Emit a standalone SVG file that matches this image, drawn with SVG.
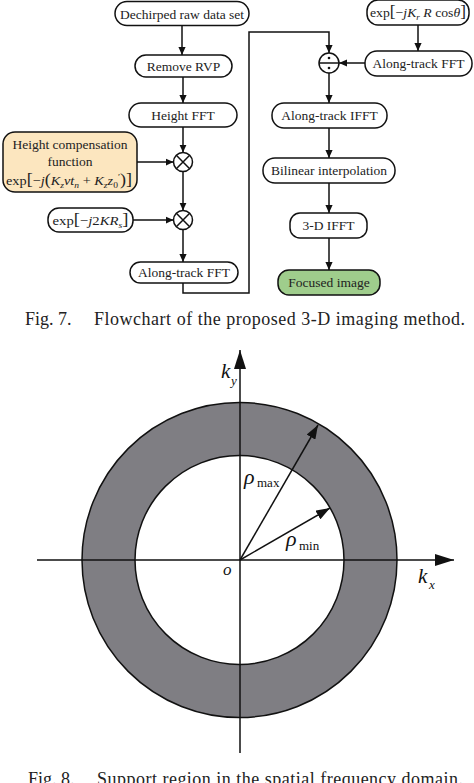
<svg xmlns="http://www.w3.org/2000/svg" width="474" height="783" viewBox="0 0 474 783">
<style>
.box{fill:#fff;stroke:#111;stroke-width:1.5}
.lbl{font-family:"Liberation Serif","Times New Roman",serif;font-size:13.5px;fill:#222;text-anchor:middle}
.it{font-style:italic}
.con{fill:none;stroke:#111;stroke-width:1.5}
.cap{font-family:"Liberation Serif","Times New Roman",serif;font-size:18px;fill:#222}
.ax{font-family:"Liberation Serif","Times New Roman",serif;fill:#111}
</style>
<defs>
<marker id="ah" viewBox="0 0 10 10" refX="10" refY="5" markerWidth="8" markerHeight="8" markerUnits="userSpaceOnUse" orient="auto"><path d="M0,0.5 L10,5 L0,9.5 Z" fill="#111"/></marker>
<marker id="big" viewBox="0 0 10 10" refX="10" refY="5" markerWidth="19" markerHeight="12" markerUnits="userSpaceOnUse" orient="auto" preserveAspectRatio="none"><path d="M0,0 L10,5 L0,10 Z" fill="#111"/></marker>
<marker id="mid" viewBox="0 0 10 10" refX="10" refY="5" markerWidth="14" markerHeight="10" markerUnits="userSpaceOnUse" orient="auto" preserveAspectRatio="none"><path d="M0,0 L10,5 L0,10 Z" fill="#111"/></marker>
</defs>

<g id="connectors">
<line class="con" x1="182" y1="25.5" x2="182" y2="55" marker-end="url(#ah)"/>
<line class="con" x1="183" y1="77" x2="183" y2="103" marker-end="url(#ah)"/>
<line class="con" x1="183" y1="127" x2="183" y2="152.5" marker-end="url(#ah)"/>
<line class="con" x1="137" y1="162" x2="173.5" y2="162" marker-end="url(#ah)"/>
<line class="con" x1="183" y1="171.5" x2="183" y2="210.5" marker-end="url(#ah)"/>
<line class="con" x1="133" y1="220" x2="173.5" y2="220" marker-end="url(#ah)"/>
<line class="con" x1="183" y1="229.5" x2="183" y2="262" marker-end="url(#ah)"/>
<polyline class="con" points="183,283 183,293 249,293 249,32 329,32 329,53" marker-end="url(#ah)"/>
<line class="con" x1="418" y1="25" x2="418" y2="51" marker-end="url(#ah)"/>
<line class="con" x1="365" y1="63" x2="339" y2="63" marker-end="url(#ah)"/>
<line class="con" x1="329" y1="73" x2="329" y2="103" marker-end="url(#ah)"/>
<line class="con" x1="329" y1="128" x2="329" y2="158" marker-end="url(#ah)"/>
<line class="con" x1="329" y1="183" x2="329" y2="213" marker-end="url(#ah)"/>
<line class="con" x1="329" y1="238" x2="329" y2="270" marker-end="url(#ah)"/>
</g>

<g id="n-dechirped"><rect class="box" x="115" y="1.5" width="134" height="24" rx="12"/><text class="lbl" x="182" y="18.5">Dechirped raw data set</text></g>
<g id="n-rvp"><rect class="box" x="135" y="55" width="97" height="22" rx="11"/><text class="lbl" x="183.5" y="70.5">Remove RVP</text></g>
<g id="n-hfft"><rect class="box" x="129" y="103" width="108" height="24" rx="12"/><text class="lbl" x="183" y="119.5">Height FFT</text></g>
<g id="n-mult1"><circle class="box" cx="183" cy="162" r="9.5"/><path class="con" d="M176.3,155.3 L189.7,168.7 M189.7,155.3 L176.3,168.7"/></g>
<g id="n-hcomp"><rect x="3" y="132" width="134" height="60" rx="12" fill="#fce6bf" stroke="#111" stroke-width="1.5"/>
<text class="lbl" x="70" y="149">Height compensation</text>
<text class="lbl" x="70" y="166">function</text>
<text class="lbl" x="69" y="185" textLength="126" lengthAdjust="spacingAndGlyphs">exp<tspan font-size="17">[</tspan>−<tspan class="it">j</tspan><tspan font-size="17">(</tspan><tspan class="it">K</tspan><tspan class="it" font-size="9" dy="3">z</tspan><tspan class="it" dy="-3">vt</tspan><tspan class="it" font-size="9" dy="3">n</tspan><tspan dy="-3"> + </tspan><tspan class="it">K</tspan><tspan class="it" font-size="9" dy="3">z</tspan><tspan class="it" dy="-3">z</tspan><tspan font-size="9" dy="3">0</tspan><tspan font-size="9" dy="-8">′</tspan><tspan font-size="17" dy="5">)]</tspan></text></g>
<g id="n-mult2"><circle class="box" cx="183" cy="220" r="9.5"/><path class="con" d="M176.3,213.3 L189.7,226.7 M189.7,213.3 L176.3,226.7"/></g>
<g id="n-exp2kr"><rect class="box" x="48" y="208" width="85" height="24" rx="11"/>
<text class="lbl" x="90.5" y="224.5" textLength="76" lengthAdjust="spacingAndGlyphs">exp<tspan font-size="17">[</tspan>−<tspan class="it">j</tspan>2<tspan class="it">KR</tspan><tspan class="it" font-size="9" dy="3">s</tspan><tspan font-size="17" dy="-3">]</tspan></text></g>
<g id="n-atfft1"><rect class="box" x="130" y="262" width="108" height="21" rx="10.5"/><text class="lbl" x="184" y="277">Along-track FFT</text></g>

<g id="n-expkr"><rect class="box" x="367" y="0" width="102" height="25" rx="11"/>
<text class="lbl" x="418" y="16.5" textLength="96" lengthAdjust="spacingAndGlyphs">exp<tspan font-size="17">[</tspan>−<tspan class="it">jK</tspan><tspan class="it" font-size="9" dy="3">r</tspan><tspan class="it" dy="-3"> R </tspan>cos<tspan class="it">θ</tspan><tspan font-size="17">]</tspan></text></g>
<g id="n-atfft2"><rect class="box" x="365" y="51" width="107" height="25" rx="12"/><text class="lbl" x="418.5" y="68">Along-track FFT</text></g>
<g id="n-div"><circle class="box" cx="329" cy="63" r="10"/><line class="con" x1="319" y1="63" x2="339" y2="63"/><circle cx="329" cy="58" r="1.3" fill="#111"/><circle cx="329" cy="68" r="1.3" fill="#111"/></g>
<g id="n-atifft"><rect class="box" x="272" y="103" width="115" height="25" rx="12"/><text class="lbl" x="329.5" y="120">Along-track IFFT</text></g>
<g id="n-bilinear"><rect class="box" x="263" y="158" width="132" height="25" rx="12"/><text class="lbl" x="329" y="175">Bilinear interpolation</text></g>
<g id="n-3difft"><rect class="box" x="290" y="213" width="77" height="25" rx="10"/><text class="lbl" x="328.5" y="230">3-D IFFT</text></g>
<g id="n-focused"><rect x="278" y="270" width="102" height="25" rx="11" fill="#9fcd8c" stroke="#111" stroke-width="1.5"/><text class="lbl" x="329" y="287">Focused image</text></g>

<text class="cap" x="25" y="325">Fig. 7.</text>
<text class="cap" x="94" y="325" textLength="371" lengthAdjust="spacing">Flowchart of the proposed 3-D imaging method.</text>

<g id="fig8">
<circle cx="239.5" cy="560" r="157.5" fill="#7f7e83" stroke="#111" stroke-width="1.5"/>
<circle cx="239.5" cy="560" r="104.5" fill="#fff" stroke="#111" stroke-width="1.5"/>
<line x1="37" y1="560" x2="454" y2="560" stroke="#111" stroke-width="1.5" marker-end="url(#big)"/>
<line x1="240" y1="753" x2="240" y2="350" stroke="#111" stroke-width="1.5" marker-end="url(#big)"/>
<line x1="240" y1="560" x2="318" y2="425" stroke="#111" stroke-width="1.5" marker-end="url(#mid)"/>
<line x1="240" y1="560" x2="330" y2="508" stroke="#111" stroke-width="1.5" marker-end="url(#mid)"/>
<text class="ax" x="418" y="583" font-size="21" font-style="italic">k</text>
<text class="ax" x="429" y="589" font-size="13" font-style="italic">x</text>
<text class="ax" x="221" y="378" font-size="21" font-style="italic">k</text>
<text class="ax" x="231" y="385" font-size="13" font-style="italic">y</text>
<text class="ax" x="244" y="484" font-size="22" font-style="italic">ρ</text>
<text class="ax" x="257" y="487" font-size="13">max</text>
<text class="ax" x="286" y="546" font-size="22" font-style="italic">ρ</text>
<text class="ax" x="299" y="550" font-size="13">min</text>
<text class="ax" x="223" y="575" font-size="17" font-style="italic">o</text>
</g>

<text class="cap" x="28" y="785">Fig. 8.</text>
<text class="cap" x="97" y="785" textLength="366" lengthAdjust="spacing">Support region in the spatial frequency domain.</text>
</svg>
